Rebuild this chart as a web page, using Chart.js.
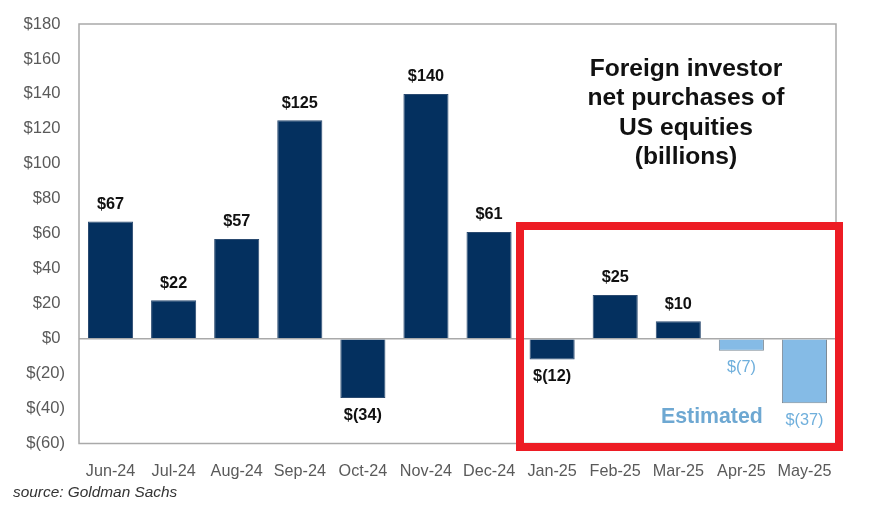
<!DOCTYPE html>
<html><head><meta charset="utf-8">
<script src="https://cdn.jsdelivr.net/npm/chart.js@4"></script>
<style>
html,body{margin:0;padding:0;background:#fff;}
#wrap{position:relative;width:869px;height:507px;overflow:hidden;font-family:"Liberation Sans",Arial,sans-serif;}
canvas{position:absolute;left:0;top:0;}
.t{position:absolute;white-space:nowrap;}
#title{left:546px;width:280px;top:53px;text-align:center;font-weight:bold;font-size:24.6px;line-height:29.4px;color:#111;}
#est{left:661px;top:403px;font-weight:bold;font-size:21.3px;line-height:26px;color:#6ea8d2;}
#src{left:13px;top:483px;font-style:italic;font-size:15.4px;line-height:18px;color:#333;}
#box{position:absolute;left:516px;top:222px;width:311px;height:213px;border:8.5px solid #ed1c24;}
</style></head><body>
<div id="wrap">
<canvas id="c" width="869" height="507"></canvas>
<div id="box"></div>
<div class="t" id="title">Foreign investor<br>net purchases of<br>US equities<br>(billions)</div>
<div class="t" id="est">Estimated</div>
<div class="t" id="src">source: Goldman Sachs</div>
</div>
<script>
const categories=["Jun-24","Jul-24","Aug-24","Sep-24","Oct-24","Nov-24","Dec-24","Jan-25","Feb-25","Mar-25","Apr-25","May-25"];
const values=[67,22,57,125,-34,140,61,-12,25,10,-7,-37];
const estimated=[false,false,false,false,false,false,false,false,false,false,true,true];
const yMin=-60, yMax=180, yStep=20;
const FONT='"Liberation Sans",Arial,sans-serif';
const money=v=>v<0?"$("+Math.abs(v)+")":"$"+v;

const extras={id:"extras",
  beforeDatasetsDraw(chart){
    const a=chart.chartArea,c=chart.ctx;
    c.save();c.strokeStyle="#a9a9a9";c.lineWidth=1.5;
    c.strokeRect(a.left,a.top,a.right-a.left,a.bottom-a.top);
    c.restore();
  },
  afterDatasetsDraw(chart){
    const c=chart.ctx,meta=chart.getDatasetMeta(0);
    c.save();c.textAlign="center";c.textBaseline="middle";
    meta.data.forEach((el,i)=>{
      const v=values[i];
      c.font=(estimated[i]?"":"bold ")+"16.3px "+FONT;
      c.fillStyle=estimated[i]?"#6fafdc":"#111";
      c.fillText(money(v),el.x,el.y+(v<0?17:-17));
    });
    c.restore();
  }};

new Chart(document.getElementById("c"),{
  type:"bar",
  data:{labels:categories,datasets:[{
    data:values,
    backgroundColor:estimated.map(e=>e?"#85bbe6":"#04305f"),
    borderColor:estimated.map(e=>e?"#7d8a96":"#2a4a70"),
    borderWidth:1,
    categoryPercentage:1,
    barPercentage:0.715
  }]},
  options:{
    responsive:false,animation:false,
    layout:{padding:{left:0,right:33,top:24,bottom:0}},
    plugins:{legend:{display:false},tooltip:{enabled:false}},
    scales:{
      x:{
        grid:{display:false},border:{display:false},
        afterFit(s){s.height=63.5;},
        ticks:{color:"#5a5a5a",font:{family:FONT,size:16.2},padding:10,maxRotation:0,autoSkip:false}
      },
      y:{
        min:yMin,max:yMax,
        afterFit(s){s.width=79;},
        border:{display:false},
        grid:{drawTicks:false,lineWidth:1.5,color:ctx=>ctx.tick&&ctx.tick.value===0?"#a9a9a9":"rgba(0,0,0,0)"},
        ticks:{stepSize:yStep,color:"#5a5a5a",font:{family:FONT,size:16.6},padding:14,
          callback:v=>v<0?money(v):money(v)+"\u00A0"}
      }
    }
  },
  plugins:[extras]
});
</script>
</body></html>
